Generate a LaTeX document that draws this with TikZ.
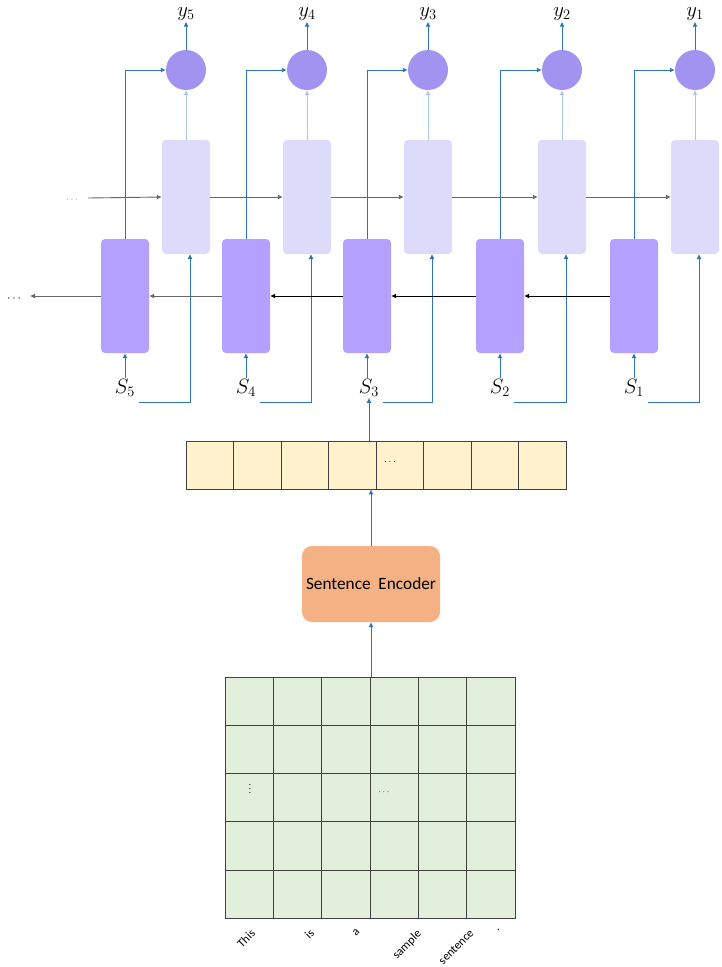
\documentclass[tikz,border=0pt]{standalone}
\usepackage{fontspec}
\setmainfont{Carlito}
\usetikzlibrary{arrows.meta}
\definecolor{dk}{HTML}{B3A0FF}
\definecolor{lt}{HTML}{DCDBF9}
\definecolor{cir}{HTML}{A293F0}
\definecolor{bl}{HTML}{2E75B6}
\definecolor{lbl}{HTML}{A9C7E6}
\definecolor{enc}{HTML}{F4B183}
\definecolor{vec}{HTML}{FFF2CC}
\definecolor{grd}{HTML}{E2EFDA}
\begin{document}
\begin{tikzpicture}[x=1pt,y=-1pt,
  dkbox/.style={fill=dk,draw=none,rounded corners=4pt,minimum width=48pt,minimum height=114pt},
  ltbox/.style={fill=lt,draw=none,rounded corners=4pt,minimum width=48pt,minimum height=114pt},
  circ/.style={circle,fill=cir,minimum size=40pt,inner sep=0},
  ba/.style={draw=bl,line width=0.9pt,-{Latex[length=5pt,width=5pt]}},
  la/.style={draw=lbl,line width=0.9pt,-{Latex[length=5pt,width=5pt]}},
  ga/.style={draw=gray!80!black,line width=0.9pt,-{Latex[length=5pt,width=5pt]}},
  ka/.style={draw=black,line width=0.9pt,-{Latex[length=5pt,width=5pt]}},
  cell/.style={draw=black!75,line width=0.6pt}]
\useasboundingbox (0,0) rectangle (722,967);
\foreach \i/\dx/\lx/\sx/\n in {5/125/186/125/5,4/246/307/246/4,3/367/428/369/3,2/500/562/500/2,1/634/695/634/1}{
  \node[ltbox] (l\i) at (\lx,197) {};
  \node[dkbox] (d\i) at (\dx,296) {};
  \node[circ] (c\i) at (\lx,70) {};
  \node[font=\huge,inner sep=1pt] (y\i) at (\lx,14) {$y_{\n}$};
  \node[font=\huge,inner sep=1pt] (s\i) at (\sx,388) {$S_{\n}$};
  \draw[ba] (c\i.north) -- (y\i.south);
  \draw[la] (l\i.north) -- (c\i.south);
  \draw[ba] (d\i.north) |- (c\i.west);
  \draw[ba] (s\i.north -| d\i) -- (d\i.south);
  \draw[ba] (s\i.east) ++(3,14) coordinate (t\i) -- (t\i -| {\lx+4},0) -- ({\lx+4},254);
}
\node[text=gray!70] (fd) at (72,200) {$\cdots$};
\node[font=\large] (bd) at (14,299) {$\cdots$};
\coordinate (fs) at (88,198);
\coordinate (be) at (30,296);
\draw[ga] (fs) -- (l5.west);
\foreach \a/\b in {5/4,4/3,3/2,2/1}{\draw[ga] (l\a.east) -- (l\b.west);}
\draw[ga] (d5.west) -- (be);
\draw[ga] (d4.west) -- (d5.east);
\draw[ka] (d3.west) -- (d4.east);
\draw[ka] (d2.west) -- (d3.east);
\draw[ka] (d1.west) -- (d2.east);
% vector
\node[fill=vec,draw=black!75,line width=0.6pt,minimum width=380pt,minimum height=48pt,inner sep=0] (v) at (376,465) {};
\foreach \k in {1,...,7}{\draw[cell] ({186+47.5*\k},441) -- ({186+47.5*\k},489);}
\node at (390,462) {$\cdots$};
\draw[ba] (v.north -| s3) -- (s3.south);
% encoder
\node[fill=enc,rounded corners=10pt,minimum width=138pt,minimum height=76pt,font=\LARGE] (e) at (371,584) {Sentence\ \ Encoder};
\draw[ba] (e.north) -- (e.north |- v.south);
% grid
\node[fill=grd,draw=black!75,line width=0.6pt,minimum width=290pt,minimum height=241pt,inner sep=0] (g) at (370,797.5) {};
\foreach \k in {1,...,5}{\draw[cell] ({225+48.3*\k},677) -- ({225+48.3*\k},918);}
\foreach \k in {1,...,4}{\draw[cell] (225,{677+48.2*\k}) -- (515,{677+48.2*\k});}
\draw[ba] (e.south |- g.north) -- (e.south);
\node[font=\small] at (250,786) {$\vdots$};
\node[font=\small] at (384,792) {$\cdots$};
\foreach \w/\x in {This/236,is/295,a/342,sample/402,sentence/455,./485}{
  \node[rotate=45,anchor=north east,font=\fontsize{12}{14}\selectfont,inner sep=1pt] at (\x+14,927) {\w};}
\end{tikzpicture}
\end{document}
